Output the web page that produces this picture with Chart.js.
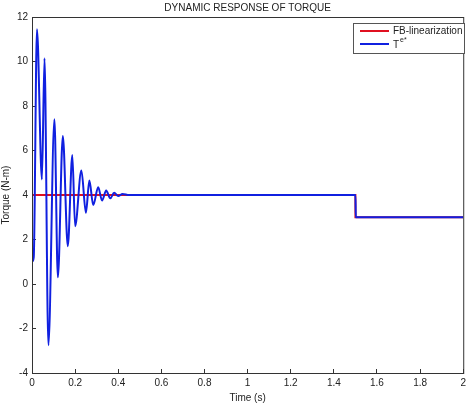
<!DOCTYPE html>
<html>
<head>
<script src="https://cdn.jsdelivr.net/npm/chart.js@4"></script>
<style>body{margin:0;background:#fff}#wrap{width:474px;height:404px}</style>
</head>
<body>
<div id="wrap"><canvas id="c"></canvas></div>
<script>
// reference command
var tRef = [0, 1.5, 1.5, 2];
var yRef = [4, 4, 3, 3];
// actual torque
var tAct = [0, 0.008, 0.023, 0.046, 0.058, 0.076, 0.104, 0.12, 0.143, 0.166, 0.187, 0.2, 0.229, 0.25, 0.266, 0.284, 0.307, 0.325, 0.344, 0.363, 0.381, 0.4, 0.42, 0.45, 1.5, 1.502, 2];
var yAct = [1, 1.2, 11.45, 4.7, 10.15, -2.75, 7.4, 0.3, 6.65, 1.7, 5.8, 2.6, 5.1, 3.2, 4.65, 3.55, 4.35, 3.75, 4.2, 3.85, 4.1, 3.95, 4.05, 4.0, 4.0, 3.0, 3.0];

function pts(xs, ys){
  var out = [];
  for (var i = 0; i < xs.length; i++) out.push({x: xs[i], y: ys[i]});
  return out;
}

var font = 'Liberation Sans, Arial, sans-serif';

var frame = {
  id: 'frame',
  afterDraw: function(chart){
    var ctx = chart.ctx, a = chart.chartArea;
    ctx.save();
    ctx.strokeStyle = '#333'; ctx.lineWidth = 1;
    ctx.strokeRect(a.left + 0.5, a.top + 0.5, a.right - a.left, a.bottom - a.top);
    // title
    ctx.fillStyle = '#222'; ctx.font = '10px ' + font; ctx.textAlign = 'center';
    ctx.fillText('DYNAMIC RESPONSE OF TORQUE', (a.left + a.right) / 2, 11);
    // legend box
    var bx = 353, by = 23, bw = 111, bh = 30;
    ctx.fillStyle = '#fff'; ctx.fillRect(bx, by, bw, bh);
    ctx.strokeStyle = '#555'; ctx.strokeRect(bx + 0.5, by + 0.5, bw, bh);
    ctx.lineWidth = 2;
    ctx.strokeStyle = '#e01020';
    ctx.beginPath(); ctx.moveTo(360, 31); ctx.lineTo(389, 31); ctx.stroke();
    ctx.strokeStyle = '#1020e0';
    ctx.beginPath(); ctx.moveTo(360, 44); ctx.lineTo(389, 44); ctx.stroke();
    ctx.fillStyle = '#222'; ctx.textAlign = 'left'; ctx.textBaseline = 'middle';
    ctx.font = '10px ' + font;
    ctx.fillText('FB-linearization', 393, 31);
    ctx.fillText('T', 393, 45);
    ctx.font = '7px ' + font;
    ctx.fillText('e*', 400, 40);
    ctx.restore();
  }
};

new Chart(document.getElementById('c'), {
  type: 'line',
  data: {
    datasets: [
      {label: 'FB-linearization', data: pts(tRef, yRef), borderColor: '#e01020', borderWidth: 2, pointRadius: 0, order: 1},
      {label: 'Te*', data: pts(tAct, yAct), borderColor: '#1020e0', borderWidth: 2, pointRadius: 0, order: 0, cubicInterpolationMode: 'monotone'}
    ]
  },
  options: {
    responsive: true, maintainAspectRatio: false, animation: false,
    layout: {padding: {top: 17, right: 8, left: 0, bottom: 0}},
    plugins: {legend: {display: false}, tooltip: {enabled: false}},
    scales: {
      x: {
        type: 'linear', min: 0, max: 2,
        afterFit: function(s){ s.height = 31; },
        grid: {display: true, drawOnChartArea: false, tickLength: -4, color: '#333'},
        border: {color: '#333'},
        ticks: {stepSize: 0.2, color: '#222', font: {size: 10, family: font}, padding: 8,
          callback: function(v){ return Math.round(v * 10) / 10; }},
        title: {display: true, text: 'Time (s)', color: '#222', font: {size: 10, family: font}, padding: 0}
      },
      y: {
        min: -4, max: 12,
        afterFit: function(s){ s.width = 32; },
        grid: {display: true, drawOnChartArea: false, tickLength: -4, color: '#333'},
        border: {color: '#333'},
        ticks: {stepSize: 2, color: '#222', font: {size: 10, family: font}, padding: 8},
        title: {display: true, text: 'Torque (N-m)', color: '#222', font: {size: 10, family: font}, padding: 0}
      }
    }
  },
  plugins: [frame]
});
</script>
</body>
</html>
